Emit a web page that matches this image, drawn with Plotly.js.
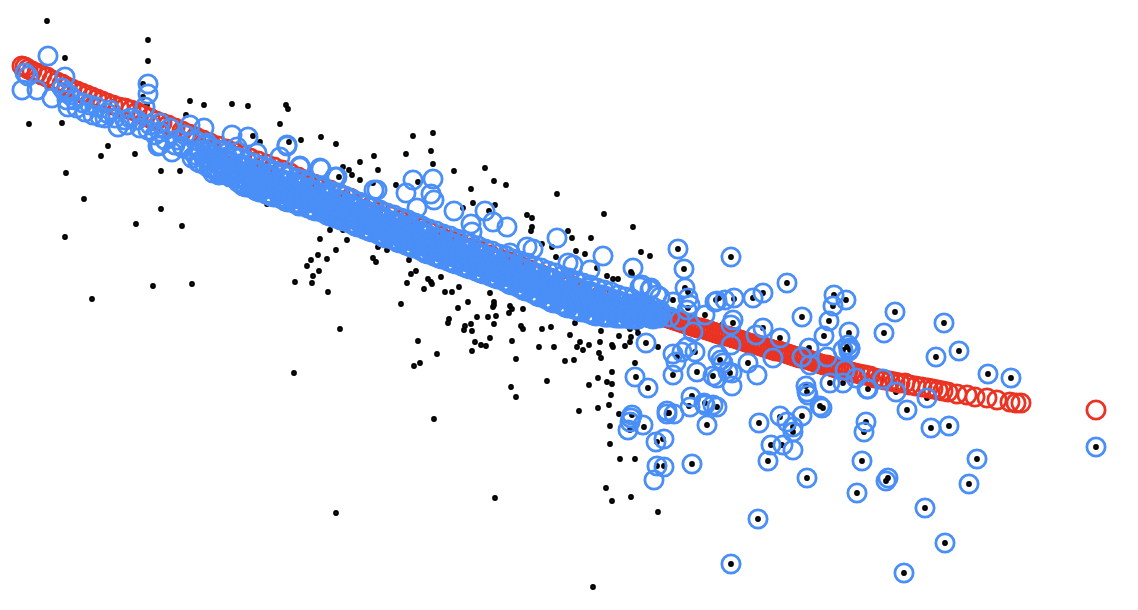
<!DOCTYPE html>
<html><head><meta charset="utf-8">
<script src="https://cdn.plot.ly/plotly-3.0.1.min.js"></script>
<style>html,body{margin:0;padding:0;background:#fff;overflow:hidden}</style></head>
<body><div id="chart" style="width:1138px;height:610px"></div>
<script>
const blackX=[47,148,148,65,143,190,204,232,248,286,288,280,29,62,108,101,135,161,180,66,84,161,136,182,65,153,192,92,186,143,147,
253,260,289,301,321,336,374,360,343,349,352,378,339,360,373,267,330,343,320,347,378,336,318,311,327,373,376,307,319,313,295,312,328,
413,433,406,431,433,454,485,494,506,471,557,396,418,473,495,463,489,527,532,532,531,604,633,568,572,591,542,552,576,585,641,650,556,597,607,613,618,631,632,
387,409,416,411,407,424,401,428,431,432,441,459,445,452,490,468,458,494,494,493,449,448,477,488,496,494,465,471,464,472,510,512,509,523,521,523,542,551,575,601,570,580,577,589,583,600,599,601,565,574,539,554,512,490,475,481,486,472,516,418,437,420,414,340,294,547,511,516,434,
612,598,607,612,589,611,609,598,579,619,610,635,619,631,630,638,630,637,612,613,625,658,620,635,606,631,612,658,495,336,593,610,
678,731,684,787,646,673,716,719,734,753,763,802,834,846,833,829,824,849,705,688,688,685,733,763,780,809,847,850,636,648,673,677,695,697,713,720,730,748,806,807,830,843,868,820,823,802,780,793,793,759,771,782,768,807,857,862,866,864,692,657,664,669,667,689,692,705,717,707,632,630,644,657,663,
895,944,884,959,936,988,1011,843,883,896,907,927,931,949,977,969,888,886,925,945,904,1096,731,758,722,731];
const blackY=[21,40,61,58,84,101,105,104,106,105,109,124,124,123,146,156,154,171,171,173,199,209,224,226,237,286,284,299,115,97,105,
136,142,142,140,137,144,156,162,167,170,175,170,177,180,183,204,230,230,239,240,247,250,255,260,259,258,262,266,271,276,282,283,292,
136,133,154,151,164,171,168,181,185,189,194,185,182,203,205,208,211,215,218,227,231,214,227,231,238,238,244,247,251,254,252,256,257,268,276,279,279,272,274,
250,260,271,274,283,289,304,279,282,284,277,287,292,292,293,302,308,302,305,307,319,323,317,317,316,324,326,324,330,331,306,309,313,309,326,329,329,327,323,331,335,342,347,345,350,342,353,358,361,360,347,347,341,338,342,345,346,351,359,341,354,363,366,329,373,381,387,397,419,
372,378,382,384,385,395,405,408,411,414,426,363,336,337,342,333,329,328,345,347,346,347,459,459,488,497,501,512,498,513,587,444,
249,257,269,283,343,300,300,298,299,298,293,317,295,300,306,321,336,333,315,308,292,288,323,328,338,348,347,350,377,388,375,357,352,372,376,360,373,363,386,392,383,383,389,406,408,416,417,427,432,423,445,445,461,478,493,461,422,432,464,466,466,413,413,406,396,403,407,425,415,430,427,442,439,
312,323,333,351,357,374,378,350,379,392,410,398,428,426,459,484,478,481,508,543,573,447,564,519,325,345];
const redX=[22,25,28,32,37,42,47,52,57,62,67,72,77,82,87,92,97,102,107,113,119,125,131,137,143,150,156,162,168,175,182,189,196,203,210,218,226,234,242,250,258,266,274,282,290,298,306,314,322,330,340,350,360,370,380,390,400,410,420,430,440,450,460,470,480,490,500,510,520,530,540,550,560,570,580,590,600,610,620,630,640,650,657,
662,665,668,671,674,677,680,683,686,689,692,695,698,701,704,707,710,713,716,719,722,725,728,731,734,737,740,743,746,749,752,755,758,761,764,767,770,773,776,779,782,785,788,791,794,797,800,803,806,809,812,815,818,821,824,827,830,833,836,839,842,845,848,851,855,860,865,870,875,880,885,890,895,900,905,910,916,922,928,933,938,943,948,957,967,975,987,997,1010,1016,1021,1096];
const redY=[66,67,69,71,73,75,77,80,82,84,87,89,91,93,95,97,99,101,103,105,107,108,110,112,115,118,121,123,125,128,131,134,137,140,143,146,149,152,155,158,161,164,167,170,173,177,180,184,187,190,194,198,203,207,211,216,220,224,228,232,236,240,244,248,251,255,259,262,266,270,274,278,282,285,289,293,296,299,303,306,309,312,315,
316,317,318,319,320,321,322,323,324,325,326,327,328,328,329,330,331,332,333,334,335,336,336,337,338,339,340,341,342,343,344,344,345,346,347,348,349,350,351,351,352,353,354,355,356,357,358,358,359,360,361,362,363,364,365,365,366,367,368,369,370,370,371,372,373,374,375,376,378,379,380,381,382,383,383,385,386,387,388,389,390,391,392,394,395,397,398,400,402,403,403,410];
const blueOuterX=[48,22,37,28,25,65,52,62,65,67,77,68,83,93,100,107,97,118,127,148,148,145,137,140,148,160,160,177,183,190,204,200,213,232,248,219,232,280,287,300,320,337,377,207,227,237,257,253,260,280,313,333,
155,165,170,175,185,190,195,195,150,160,130,125,110,90,85,75,70,105,115,200,158,172,182,192,198,
287,300,321,335,374,413,433,406,431,434,417,454,485,493,507,471,472,557,527,533,603,633,642,651,657,568,573,590,510,646,635,648,632,630,628,643,
640,650,660,673,685,688,690,687,705,670,680,693,717,715,725,734,753,763,733,731,756,763,780,731,695,687,682,673,676,673,697,718,721,723,713,717,728,732,732,748,757,773,802,809,810,827,830,848,850,849,845,843,856,867,806,807,808,820,822,802,780,787,793,793,759,771,783,793,768,807,857,862,866,864,692,657,664,654,656,664,631,667,667,674,690,691,704,705,717,707,713,678,731,684,787,802,834,846,833,829,824,849,
895,944,884,959,936,988,1011,850,843,868,883,896,907,927,931,949,977,969,888,886,925,945,904,1096,731,758];
const blueOuterY=[56,90,90,76,73,77,98,88,92,100,108,107,103,115,117,113,107,127,125,84,94,107,120,128,130,123,145,140,148,125,128,163,173,135,137,175,177,157,145,166,168,177,190,143,157,147,153,187,188,197,210,217,
135,140,128,145,135,150,140,155,125,132,118,120,110,105,112,100,95,118,118,150,146,152,146,158,162,
146,167,169,177,190,180,179,193,194,200,208,211,211,222,227,224,232,238,247,249,256,268,285,288,295,263,265,270,253,343,377,388,415,422,430,425,
287,290,297,302,288,298,305,310,315,317,320,332,301,302,300,298,298,293,320,325,335,328,338,345,352,347,352,354,362,375,372,355,360,363,376,378,372,373,386,363,375,358,357,348,365,357,383,345,348,351,370,383,378,389,386,392,395,406,408,416,416,422,427,432,423,445,445,450,461,478,493,461,422,432,464,466,467,480,442,439,418,411,414,414,407,397,403,405,407,425,405,249,257,269,283,317,295,300,306,321,336,332,
312,323,333,351,357,374,378,349,350,389,379,392,410,398,428,426,459,484,478,481,508,543,573,447,564,519];
const blueBandX=[205,206,204,205, 212,213,211,212, 219,218,220,219, 226,227,225,226, 233,232,234,233,
240,241,239,240,241, 247,246,248,247,246, 254,255,253,254,255, 261,260,262,261,260, 268,269,267,268,269,
275,274,276,275,274, 282,283,281,282,283, 289,288,290,289,288, 296,297,295,296,297, 303,302,304,303,302,
310,311,309,310,311, 317,316,318,317,316, 324,325,323,324,325, 331,330,332,331,330, 338,339,337,338,339,
345,344,346,345,344, 352,353,351,352,353, 359,358,360,359,358, 366,367,365,366,367, 373,372,374,373,372,
380,381,379,380,381, 387,386,388,387,386, 394,395,393,394,395, 401,400,402,401,400, 408,409,407,408,409,
415,414,416,415,414, 422,423,421,422,423, 429,428,430,429,428, 436,437,435,436,437, 443,442,444,443,442,
450,451,449,450,451, 457,456,458,457,456, 464,465,463,464,465, 471,470,472,471,470, 478,479,477,478,479,
485,484,486,485,484, 492,493,491,492,493, 499,498,500,499,498, 506,507,505,506,507, 513,512,514,513,512,
520,521,519,520,521, 527,526,528,527,526, 534,535,533,534,535, 541,540,542,541,540, 548,549,547,548,549,
555,554,556,555,554, 562,563,561,562,563, 569,568,570,569,568, 576,577,575,576,577, 583,582,584,583,582,
590,591,589,590,591, 597,596,598,597,596, 604,605,603,604,605, 611,610,612,611,610, 618,619,617,618,619,
625,624,626,625,624, 632,633,631,632,633, 639,638,640,639,638, 646,647,645,646, 653,652,654,653, 660,661,659];
const blueBandY=[145,151,158,165, 148,155,161,168, 150,157,164,171, 153,160,167,174, 156,163,170,177,
158,164,171,178,184, 161,167,174,181,187, 163,170,176,183,190, 166,172,179,186,192, 168,175,181,188,195,
171,177,184,190,197, 173,180,186,193,199, 176,182,189,195,202, 178,184,191,197,204, 180,187,193,200,206,
183,189,196,202,208, 185,192,198,204,211, 188,194,201,207,213, 191,197,203,210,216, 193,200,206,212,219,
196,202,209,215,221, 199,205,211,218,224, 202,208,214,221,227, 205,211,217,223,230, 207,214,220,226,232,
210,216,223,229,235, 213,219,225,232,238, 215,222,228,234,240, 218,224,231,237,243, 220,227,233,240,246,
223,230,236,242,248, 226,232,239,245,251, 229,235,241,248,254, 231,238,244,250,257, 234,240,247,253,259,
236,243,249,256,262, 239,245,252,258,264, 241,248,254,261,267, 244,250,257,263,269, 246,253,259,265,272,
249,255,262,268,274, 251,258,264,270,277, 254,260,266,273,279, 256,263,269,276,282, 259,265,272,278,285,
261,268,274,281,288, 263,270,277,284,291, 266,273,280,287,294, 268,275,282,289,297, 271,278,285,292,300,
273,280,287,295,303, 276,283,290,297,305, 278,285,292,300,308, 281,288,295,302,310, 283,290,297,304,312,
285,292,299,306,314, 288,294,301,308,316, 290,296,303,310,317, 292,298,304,311,317, 295,301,306,312,318,
297,303,308,313,318, 299,305,310,315,319, 302,307,311,316,319, 305,309,313,317, 307,311,315,319, 310,314,318];
const blueFillX=[210,208,209, 215,217,216, 224,222,223, 229,231,230,
238,236,237,238, 243,245,244,243, 252,250,251,252, 257,259,258,257, 266,264,265,266,
271,273,272,271, 280,278,279,280, 285,287,286,285, 294,292,293,294, 299,301,300,299,
308,306,307,308, 313,315,314,313, 322,320,321,322, 327,329,328,327, 336,334,335,336,
341,343,342,341, 350,348,349,350, 355,357,356,355, 364,362,363,364, 369,371,370,369,
378,376,377,378, 383,385,384,383, 392,390,391,392, 397,399,398,397, 406,404,405,406,
411,413,412,411, 420,418,419,420, 425,427,426,425, 434,432,433,434, 439,441,440,439,
448,446,447,448, 453,455,454,453, 462,460,461,462, 467,469,468,467, 476,474,475,476,
481,483,482,481, 490,488,489,490, 495,497,496,495, 504,502,503,504, 509,511,510,509,
518,516,517,518, 523,525,524,523, 532,530,531,532, 537,539,538,537, 546,544,545,546,
551,553,552,551, 560,558,559,560, 565,567,566,565, 574,572,573,574, 579,581,580,579,
588,586,587,588, 593,595,594,593, 602,600,601,602, 607,609,608,607, 616,614,615,616,
621,623,622,621, 630,628,629,630, 635,637,636,635, 644,642,643, 649,651,650, 658,656];
const blueFillY=[154,161,168, 158,164,171, 160,167,174, 163,170,177,
164,171,178,182, 166,173,180,186, 169,175,182,188, 171,178,185,191, 174,180,187,194,
176,183,189,196, 179,185,192,198, 181,188,194,201, 183,190,196,203, 186,192,199,206,
188,195,201,208, 191,197,203,210, 193,200,206,212, 196,202,209,215, 199,205,211,218,
201,208,214,220, 204,210,217,223, 207,213,220,226, 210,216,222,229, 213,219,225,231,
215,222,228,234, 218,224,231,237, 221,227,233,239, 223,230,236,242, 226,232,239,245,
229,235,241,247, 231,238,244,250, 234,240,247,253, 237,243,249,256, 239,246,252,258,
242,248,255,261, 244,251,257,263, 247,253,260,266, 249,256,262,268, 252,258,264,271,
254,261,267,273, 257,263,269,276, 259,265,272,278, 262,268,275,281, 264,271,277,284,
267,273,280,287, 269,276,283,290, 272,279,286,293, 274,281,288,296, 277,284,291,299,
279,286,294,302, 282,289,296,304, 284,291,299,307, 287,294,301,309, 289,296,303,311,
291,298,305,313, 293,300,307,315, 295,302,309,316, 297,303,310,317, 300,305,311,318,
302,307,312,318, 304,309,314,319, 306,310,315,319, 308,312,316, 310,314,318, 313,317];

const BLUE='#4a8ff7', RED='#ea3323';
const traces=[
 {type:'scatter',mode:'markers',x:blackX,y:blackY,hoverinfo:'skip',
  marker:{symbol:'circle-open',size:3.2,color:'#000',line:{color:'#000',width:2.6}}},
 {type:'scatter',mode:'markers',x:redX,y:redY,hoverinfo:'skip',
  marker:{symbol:'circle-open',size:18.3,color:RED,line:{color:RED,width:2.8}}},
 {type:'scatter',mode:'markers',x:blueBandX.concat(blueFillX,blueOuterX),y:blueBandY.concat(blueFillY,blueOuterY),hoverinfo:'skip',
  marker:{symbol:'circle-open',size:18.3,color:BLUE,line:{color:BLUE,width:2.8}}}
];
Plotly.newPlot('chart',traces,{
 width:1138,height:610,margin:{l:0,r:0,t:0,b:0},showlegend:false,
 paper_bgcolor:'#fff',plot_bgcolor:'#fff',
 xaxis:{range:[0,1138],visible:false},
 yaxis:{range:[610,0],visible:false}
},{displayModeBar:false,staticPlot:true});
</script></body></html>
